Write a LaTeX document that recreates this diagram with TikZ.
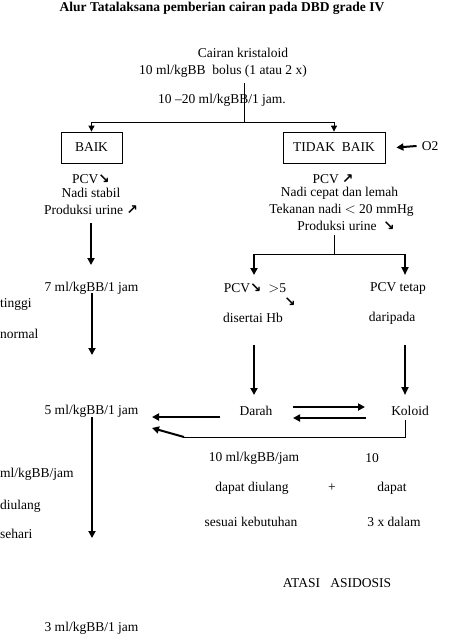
\documentclass[tikz,border=0pt]{standalone}
\usepackage{fontspec}
\setmainfont{Liberation Serif}
\newfontfamily\symfont{DejaVu Sans}
\newcommand{\arrdown}{{\symfont\bfseries\char"2198}}
\newcommand{\arrup}{{\symfont\bfseries\char"2197}}
\usetikzlibrary{arrows.meta}

\begin{document}
\begin{tikzpicture}[
	x=1pt, y=-1pt,
	every node/.style={font=\fontsize{13.5}{15}\selectfont, inner sep=1pt},
	box/.style={draw, line width=0.8pt, minimum height=31pt, inner sep=0pt},
	line/.style={line width=0.9pt},
	connection/.style={-{Triangle[length=6pt,width=6pt]}, line width=0.9pt},
	strong/.style={-{Triangle[length=7pt,width=7pt]}, line width=2pt},
	heavy/.style={-{Triangle[length=8pt,width=7pt]}, line width=2.8pt}
	]
	\useasboundingbox (0,0) rectangle (472,638);
	
	% Title
	\node[font=\fontsize{13.5}{15}\selectfont\bfseries] (title) at (222,8) {Alur Tatalaksana pemberian cairan pada DBD grade IV};
	
	% Start
	\node (crist1) at (243,53) {Cairan kristaloid};
	\node (crist2) at (223,71) {10 ml/kgBB\ \ bolus (1 atau 2 x)};
	\node (dose) at (222,100) {10 --20 ml/kgBB/1 jam.};
	\coordinate (split) at (244,122);
	
	% Boxes
	\node[box, minimum width=61pt] (baik) at (91.5,147.5) {BAIK};
	\node[box, minimum width=102pt] (tidak) at (334,147.5) {TIDAK\ \ BAIK};
	\node (o2) at (430,146) {O2};
	
	% Left branch
	\node (b1) at (91,179) {PCV\arrdown};
	\node (b2) at (91,193) {Nadi stabil};
	\node (b3) at (91,210) {Produksi urine \arrup};
	\node (seven) at (91.5,288) {7 ml/kgBB/1 jam};
	\node (five) at (91.5,411) {5 ml/kgBB/1 jam};
	\node (three) at (91.5,628) {3 ml/kgBB/1 jam};
	
	% Clipped texts at the left edge
	\foreach \y/\t in {304/tinggi, 334/normal, 474/{ml/kgBB/jam}, 506/diulang, 534/sehari}
		\node[anchor=west, inner sep=0pt] at (0,\y) {\t};
	
	% Right branch
	\node (t1) at (333,179) {PCV \arrup};
	\node (t2) at (339.5,193) {Nadi cepat dan lemah};
	\node (t3) at (341.5,210) {Tekanan nadi $<$ 20 mmHg};
	\node (t4) at (346,226) {Produksi urine\ \ \arrdown};
	\coordinate (split2) at (334,254);
	
	\node (pcvA) at (255,288) {PCV\arrdown\ \ $>$5};
	\node (gt) at (290,302) {\arrdown};
	\node (hb) at (253,318) {disertai Hb};
	\node (pcvB) at (398,288) {PCV tetap};
	\node (dari) at (392,318) {daripada};
	
	\node (darah) at (256,411) {Darah};
	\node (koloid) at (410,411) {Koloid};
	\coordinate (kol) at (405,420);
	\coordinate (bend) at (184,437);
	
	% Notes below
	\node (n1) at (254,458) {10 ml/kgBB/jam};
	\node (n2) at (372,458) {10};
	\node (n3) at (252,488) {dapat diulang};
	\node (plus) at (332,488) {+};
	\node (n4) at (392,488) {dapat};
	\node (n5) at (251,522) {sesuai kebutuhan};
	\node (n6) at (394,522) {3 x dalam};
	\node (atasi) at (337,583) {ATASI\ \ \ ASIDOSIS};
	
	% Connections: start to boxes
	\draw[line] (split |- 0,83) -- (split);
	\draw[line] (baik.north |- split) -- (tidak.north |- split);
	\draw[connection] (baik.north |- split) -- (baik.north);
	\draw[connection] (tidak.north |- split) -- (tidak.north);
	\draw[strong] ([xshift=-4pt]o2.west) -- ([xshift=11pt]tidak.east);
	
	% Connections: left branch
	\draw[strong] (91,223) -- (91,265);
	\draw[strong] (92,293) -- (92,355);
	\draw[strong] (92,417) -- (92,538);
	
	% Connections: right branch
	\draw[line] (split2 |- 0,235) -- (split2);
	\draw[line] (254,254) -- (405,254);
	\draw[strong] (254,254) -- (254,275);
	\draw[heavy] (405,254) -- (405,275);
	\draw[strong] (254,345) -- (254,395);
	\draw[heavy] (405,345) -- (405,395);
	
	% Connections: Darah, Koloid
	\draw[strong] (darah.west |- 0,417) ++(-18pt,0) -- (152,417);
	\draw[strong] (293,407) -- (365,407);
	\draw[strong] (366,418) -- (293,418);
	\draw[line] (kol) -- (kol |- bend) -- (bend);
	\draw[strong] (bend) -- (152,428);
	
\end{tikzpicture}
\end{document}
